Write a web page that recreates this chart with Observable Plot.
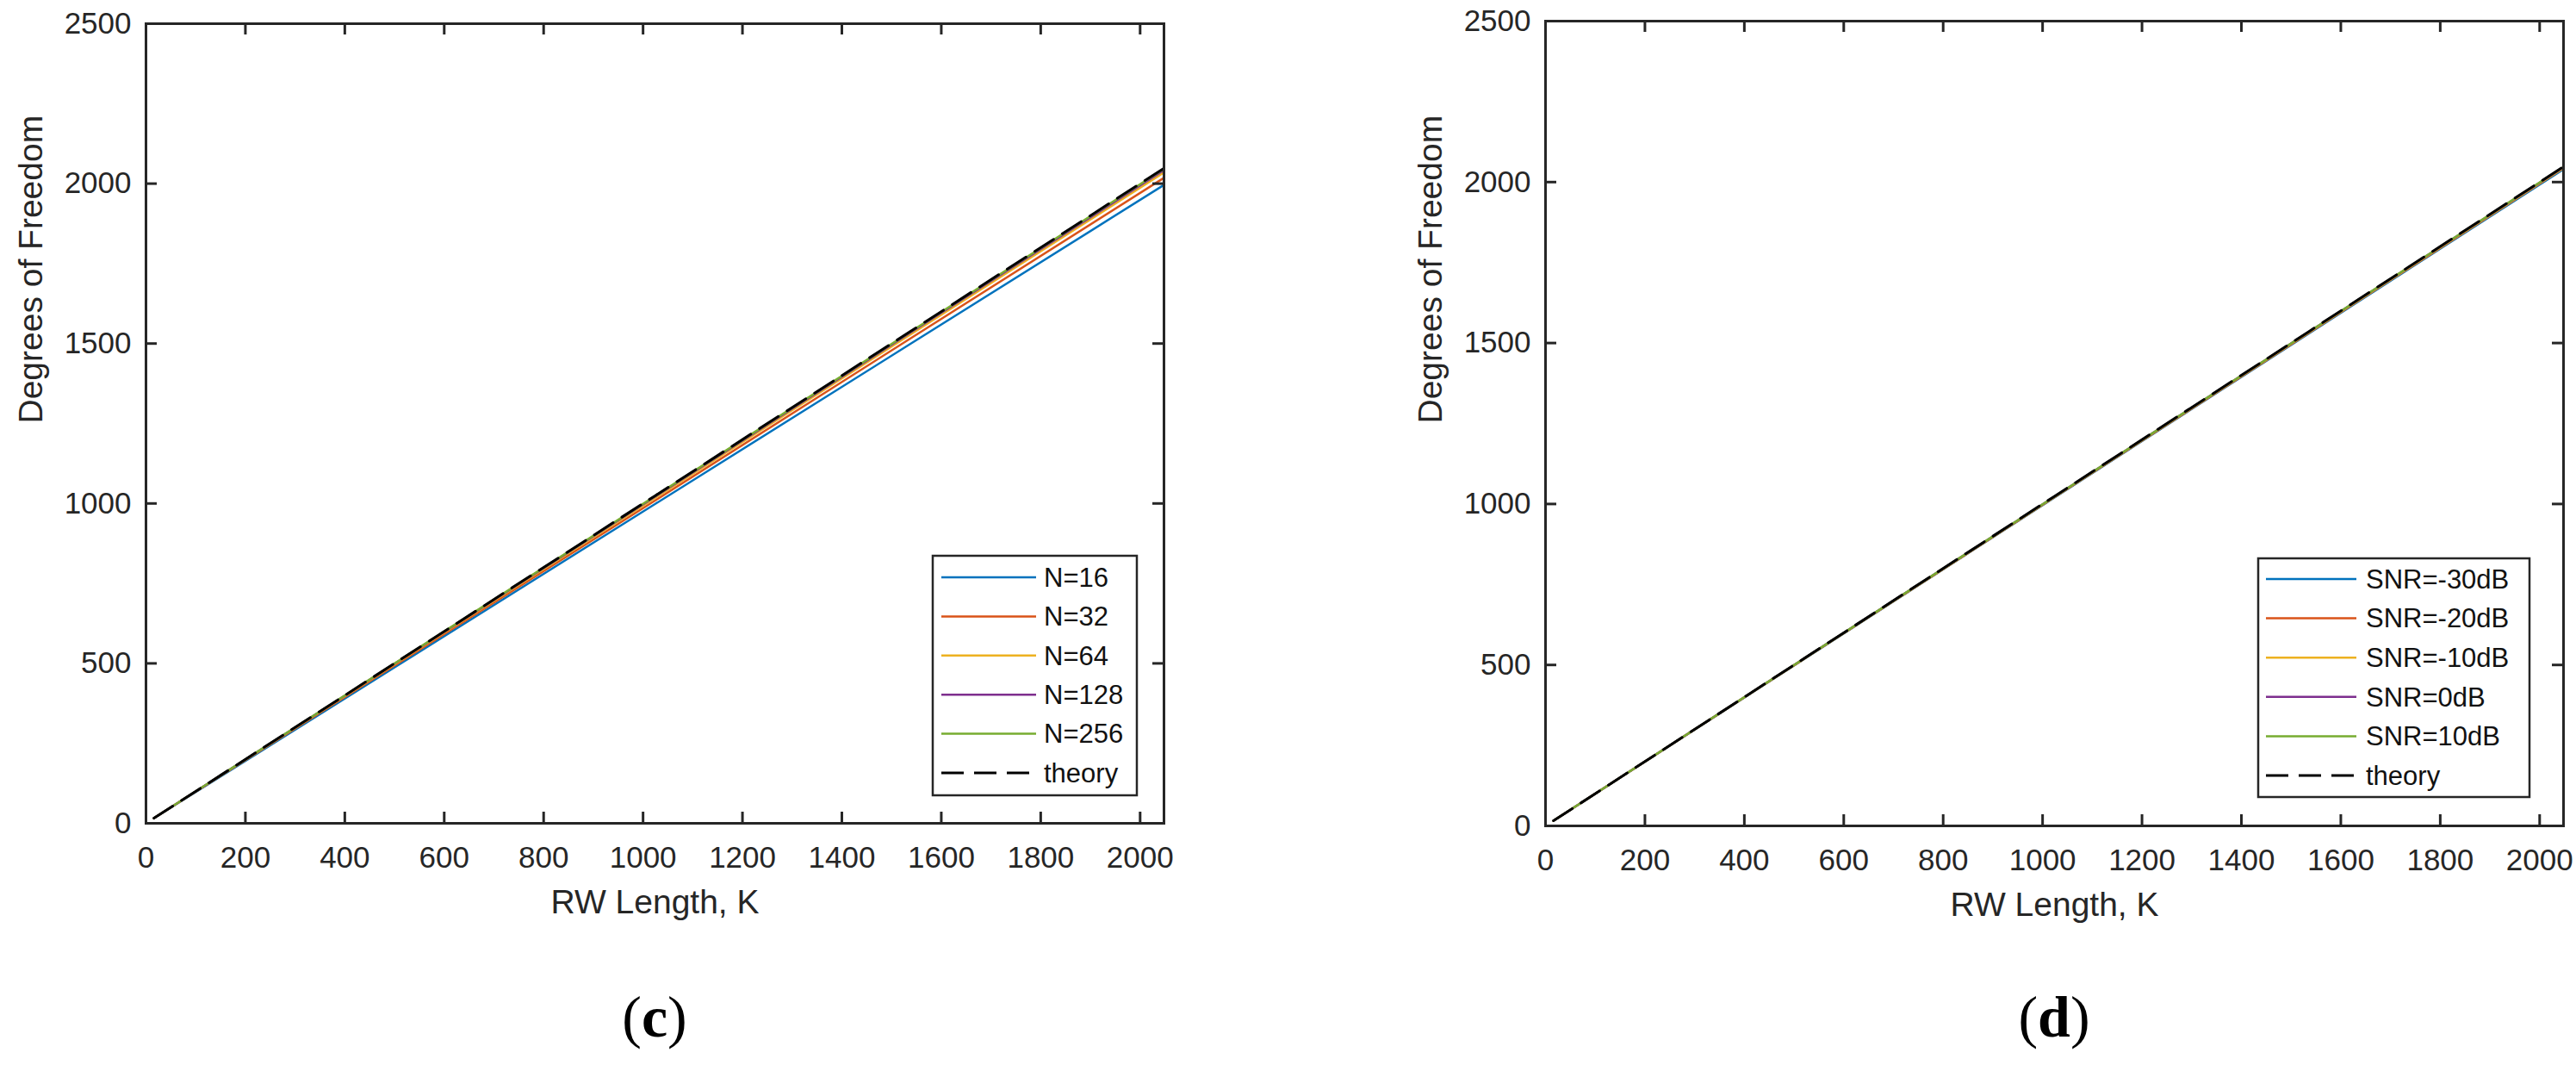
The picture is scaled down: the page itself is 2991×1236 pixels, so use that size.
<!DOCTYPE html>
<html><head><meta charset="utf-8">
<script src="https://cdn.jsdelivr.net/npm/d3@7"></script>
<script src="https://cdn.jsdelivr.net/npm/@observablehq/plot@0.6"></script>
<style>
html,body{margin:0;padding:0;background:#fff;}
#page{position:relative;width:2991px;height:1236px;overflow:hidden;background:#fff;}
.panel{position:absolute;top:0;}
.cap{position:absolute;top:1146px;font-family:"Liberation Serif","DejaVu Serif",serif;font-size:68px;line-height:68px;color:#000;transform:translateX(-50%);white-space:nowrap;}
</style></head><body><div id="page"></div>
<script>
// ---- data ----
const K = [16, 512, 1024, 1536, 2048];
const seriesC = ["N=16", "N=32", "N=64", "N=128", "N=256"];
const valuesC = [
  [16, 499, 998, 1497, 1996],
  [16, 505, 1009, 1514, 2018],
  [16, 509, 1017, 1526, 2035],
  [16, 511, 1021, 1532, 2042],
  [16, 512, 1023, 1535, 2046]
];
const seriesD = ["SNR=-30dB", "SNR=-20dB", "SNR=-10dB", "SNR=0dB", "SNR=10dB"];
const valuesD = [
  [16, 510, 1020, 1530, 2040],
  [16, 511, 1021, 1532, 2043],
  [16, 511, 1022, 1533, 2044],
  [16, 512, 1023, 1535, 2046],
  [16, 512, 1023, 1535, 2047]
];
const theoryName = "theory";
const theoryValues = [16, 512, 1024, 1536, 2048];
const xTicks = [0, 200, 400, 600, 800, 1000, 1200, 1400, 1600, 1800, 2000];
const yTicks = [0, 500, 1000, 1500, 2000, 2500];
const xLabel = "RW Length, K";
const yLabel = "Degrees of Freedom";
const captions = ["c", "d"];
const colors = ["#0072BD", "#D95319", "#EDB120", "#7E2F8E", "#77AC30"];

const FONT = "'Liberation Sans', Arial, Helvetica, sans-serif";
const INK = "#262626";

function legendMark(names, opt) {
  return function(...args) {
    const dims = args.find(a => a && typeof a === "object" && "marginRight" in a && "width" in a);
    const {width, height, marginRight, marginBottom} = dims;
    const x1 = width - marginRight - opt.gapRight;
    const x0 = x1 - opt.boxWidth;
    const y1 = height - marginBottom - opt.gapBottom;
    const y0 = y1 - opt.boxHeight;
    const g = d3.create("svg:g");
    g.append("rect").attr("x", x0).attr("y", y0).attr("width", opt.boxWidth).attr("height", opt.boxHeight)
      .attr("fill", "white").attr("stroke", INK).attr("stroke-width", 2.5);
    const entries = names.map((n, i) => ({name: n, color: colors[i], dash: null}))
      .concat([{name: theoryName, color: "#000", dash: "26,12"}]);
    entries.forEach((e, i) => {
      const y = y0 + opt.first + i * opt.step;
      g.append("line").attr("x1", x0 + opt.s0).attr("x2", x0 + opt.s1).attr("y1", y).attr("y2", y)
        .attr("stroke", e.color).attr("stroke-width", e.dash ? 3 : 2.5)
        .attr("stroke-dasharray", e.dash);
      g.append("text").attr("x", x0 + opt.tx).attr("y", y).attr("dy", "0.35em")
        .attr("text-anchor", "start")
        .attr("font-family", FONT).attr("font-size", 31).attr("fill", "#111")
        .text(e.name);
    });
    return g.node();
  };
}

function makePanel(names, vals, o) {
  const data = [];
  names.forEach((n, i) => K.forEach((k, j) => data.push({series: n, k, v: vals[i][j]})));
  const theory = K.map((k, j) => ({k, v: theoryValues[j]}));
  const H = 1110;
  const pw = o.width - o.ml - o.mr, ph = H - o.mt - o.mb;
  const fmt = d => String(d);
  return Plot.plot({
    width: o.width, height: H,
    marginLeft: o.ml, marginRight: o.mr, marginTop: o.mt, marginBottom: o.mb,
    style: {fontFamily: FONT, fontSize: "35px", color: INK, background: "white", overflow: "visible"},
    x: {domain: [0, 2048]},
    y: {domain: [0, 2500]},
    marks: [
      names.map((n, i) => Plot.line(data.filter(d => d.series === n), {x: "k", y: "v", stroke: colors[i], strokeWidth: 2.5})),
      Plot.line(theory, {x: "k", y: "v", stroke: "#000", strokeWidth: 3, strokeDasharray: "26,12"}),
      Plot.tickX(xTicks, {x: d => d, insetTop: ph - 13, stroke: INK, strokeWidth: 3}),
      Plot.tickX(xTicks, {x: d => d, insetBottom: ph - 13, stroke: INK, strokeWidth: 3}),
      Plot.tickY(yTicks, {y: d => d, insetRight: pw - 13, stroke: INK, strokeWidth: 3}),
      Plot.tickY(yTicks, {y: d => d, insetLeft: pw - 13, stroke: INK, strokeWidth: 3}),
      Plot.axisX({ticks: xTicks, tickFormat: fmt, tickSize: 0, tickPadding: 27, label: null, fontSize: 35, fill: INK}),
      Plot.axisY({ticks: yTicks, tickFormat: fmt, tickSize: 0, tickPadding: 17, label: null, fontSize: 35, fill: INK}),
      Plot.text([xLabel], {text: d => d, frameAnchor: "bottom", lineAnchor: "top", dy: 77, fontSize: 39, fill: INK}),
      Plot.text([yLabel], {text: d => d, frameAnchor: "left", lineAnchor: "top", rotate: -90, dx: -148, fontSize: 39, fill: INK}),
      Plot.frame({stroke: INK, strokeWidth: 3}),
      legendMark(names, o.legend)
    ]
  });
}

const page = document.getElementById("page");

const left = makePanel(seriesC, valuesC, {
  width: 1420, ml: 169, mr: 69, mt: 27, mb: 155,
  legend: {boxWidth: 237, boxHeight: 278, gapRight: 31, gapBottom: 32, first: 25, step: 45.4, s0: 10, s1: 120, tx: 129}
});
left.classList.add("panel"); left.style.left = "0px";
page.appendChild(left);

const right = makePanel(seriesD, valuesD, {
  width: 1491, ml: 294, mr: 15, mt: 24, mb: 152,
  legend: {boxWidth: 315, boxHeight: 277, gapRight: 39, gapBottom: 33, first: 24, step: 45.6, s0: 9, s1: 114, tx: 125}
});
right.classList.add("panel"); right.style.left = "1500px";
page.appendChild(right);

[[captions[0], 760], [captions[1], 2385]].forEach(([c, cx]) => {
  const d = document.createElement("div");
  d.className = "cap";
  d.style.left = cx + "px";
  d.innerHTML = "(<b>" + c + "</b>)";
  page.appendChild(d);
});
</script></body></html>
